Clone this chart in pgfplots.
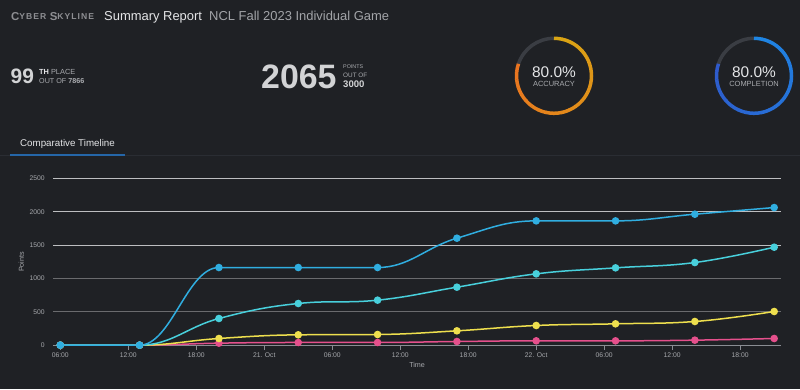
\documentclass[border=0pt]{standalone}
\usepackage{fontspec}
\setmainfont{Liberation Sans}
\usepackage{pgfplots}
\pgfplotsset{compat=1.18}
\definecolor{bg}{HTML}{1F2125}
\definecolor{logogray}{HTML}{8E8F93}
\definecolor{titlewhite}{HTML}{E4E5E7}
\definecolor{subgray}{HTML}{A2A4A8}
\definecolor{bignum}{HTML}{D2D3D5}
\definecolor{smallgray}{HTML}{A9ABAF}
\definecolor{track}{HTML}{3A3D43}
\definecolor{accY}{HTML}{D9A514}
\definecolor{accO}{HTML}{EA7420}
\definecolor{cmpA}{HTML}{1E86E4}
\definecolor{cmpB}{HTML}{2F5ACB}
\definecolor{tabline}{HTML}{2566A8}
\definecolor{sepline}{HTML}{2A2D33}
\definecolor{axisgray}{HTML}{8A8D93}
\definecolor{griddark}{HTML}{6A6B6E}
\definecolor{gridlight}{HTML}{BDBEC0}
\definecolor{tickgray}{HTML}{A6A8AC}
\definecolor{sBlue}{HTML}{30AEE0}
\definecolor{sTeal}{HTML}{48D0DC}
\definecolor{sYellow}{HTML}{EEDF4E}
\definecolor{sPink}{HTML}{E5508C}
% ---- Highcharts-like spline plot handler (control points from the data points)
\makeatletter
\def\pgfplothandlerhcspline{%
  \def\pgf@plotstreamstart{%
    \global\let\pgf@plotstreampoint=\hc@first
    \global\let\pgf@plotstreamspecial=\pgfutil@gobble
    \global\let\pgf@plotstreamend=\pgfutil@empty
  }%
}
\def\hc@first#1{%
  \pgf@process{#1}%
  \xdef\hc@ax{\pgf@sys@tonumber\pgf@x}\xdef\hc@ay{\pgf@sys@tonumber\pgf@y}%
  \global\let\hc@rcx=\hc@ax \global\let\hc@rcy=\hc@ay
  \pgf@plot@first@action{\pgfqpoint{\hc@ax pt}{\hc@ay pt}}%
  \global\let\pgf@plotstreampoint=\hc@second
}
\def\hc@second#1{%
  \pgf@process{#1}%
  \xdef\hc@bx{\pgf@sys@tonumber\pgf@x}\xdef\hc@by{\pgf@sys@tonumber\pgf@y}%
  \global\let\pgf@plotstreampoint=\hc@next
  \global\let\pgf@plotstreamend=\hc@end
}
\def\hc@next#1{%
  \pgf@process{#1}%
  \xdef\hc@cx{\pgf@sys@tonumber\pgf@x}\xdef\hc@cy{\pgf@sys@tonumber\pgf@y}%
  \hc@compute
  \pgfpathcurveto{\pgfqpoint{\hc@rcx pt}{\hc@rcy pt}}{\pgfqpoint{\hc@lcx pt}{\hc@lcy pt}}{\pgfqpoint{\hc@bx pt}{\hc@by pt}}%
  \global\let\hc@rcx=\hc@rcxn \global\let\hc@rcy=\hc@rcyn
  \global\let\hc@ax=\hc@bx \global\let\hc@ay=\hc@by
  \global\let\hc@bx=\hc@cx \global\let\hc@by=\hc@cy
}
\def\hc@end{%
  \pgfpathcurveto{\pgfqpoint{\hc@rcx pt}{\hc@rcy pt}}{\pgfqpoint{\hc@bx pt}{\hc@by pt}}{\pgfqpoint{\hc@bx pt}{\hc@by pt}}%
}
\def\hc@compute{%
  \pgfmathsetmacro\hc@lcx{(1.5*\hc@bx+\hc@ax)/2.5}%
  \pgfmathsetmacro\hc@lcy{(1.5*\hc@by+\hc@ay)/2.5}%
  \pgfmathsetmacro\hc@rcxn{(1.5*\hc@bx+\hc@cx)/2.5}%
  \pgfmathsetmacro\hc@rcyn{(1.5*\hc@by+\hc@cy)/2.5}%
  \ifdim\hc@rcxn pt=\hc@lcx pt\relax\else
    \pgfmathsetmacro\hc@corr{(\hc@rcyn-\hc@lcy)*((\hc@rcxn-\hc@bx)/(\hc@rcxn-\hc@lcx))+\hc@by-\hc@rcyn}%
    \pgfmathsetmacro\hc@lcy{\hc@lcy+\hc@corr}%
    \pgfmathsetmacro\hc@rcyn{\hc@rcyn+\hc@corr}%
  \fi
  \ifdim\hc@lcy pt>\hc@ay pt\relax
    \ifdim\hc@lcy pt>\hc@by pt\relax
      \pgfmathsetmacro\hc@lcy{max(\hc@ay,\hc@by)}%
      \pgfmathsetmacro\hc@rcyn{2*\hc@by-\hc@lcy}%
    \fi
  \else
    \ifdim\hc@lcy pt<\hc@ay pt\relax
      \ifdim\hc@lcy pt<\hc@by pt\relax
        \pgfmathsetmacro\hc@lcy{min(\hc@ay,\hc@by)}%
        \pgfmathsetmacro\hc@rcyn{2*\hc@by-\hc@lcy}%
      \fi
    \fi
  \fi
  \ifdim\hc@rcyn pt>\hc@cy pt\relax
    \ifdim\hc@rcyn pt>\hc@by pt\relax
      \pgfmathsetmacro\hc@rcyn{max(\hc@cy,\hc@by)}%
      \pgfmathsetmacro\hc@lcy{2*\hc@by-\hc@rcyn}%
    \fi
  \else
    \ifdim\hc@rcyn pt<\hc@cy pt\relax
      \ifdim\hc@rcyn pt<\hc@by pt\relax
        \pgfmathsetmacro\hc@rcyn{min(\hc@cy,\hc@by)}%
        \pgfmathsetmacro\hc@lcy{2*\hc@by-\hc@rcyn}%
      \fi
    \fi
  \fi
}
\tikzset{hc spline/.code={\let\tikz@plot@handler=\pgfplothandlerhcspline}}
\makeatother
\begin{document}
\begin{tikzpicture}[x=1bp,y=1bp]
\path[use as bounding box] (0,0) rectangle (800,389);
\fill[bg] (0,0) rectangle (800,389);
% ---- header
\node[anchor=base west, inner sep=0, text=logogray] at (11,369)
  {\bfseries\addfontfeature{LetterSpace=12}\fontsize{11.5}{12}\selectfont C\fontsize{8.6}{9}\selectfont YBER\ \fontsize{11.5}{12}\selectfont S\fontsize{8.6}{9}\selectfont KYLINE};
\node[anchor=base west, inner sep=0, text=titlewhite, font=\fontsize{13}{15}\selectfont] at (104,369) {Summary Report};
\node[anchor=base west, inner sep=0, text=subgray, font=\fontsize{13}{15}\selectfont] at (209,369) {NCL Fall 2023 Individual Game};
% place
\node[anchor=base west, inner sep=0, text=bignum, font=\bfseries\fontsize{21}{24}\selectfont] at (10.5,306) {99};
\node[anchor=base west, inner sep=0, text=smallgray, font=\fontsize{7.4}{9}\selectfont] at (39,314.5) {\textcolor{titlewhite}{\bfseries TH} PLACE};
\node[anchor=base west, inner sep=0, text=smallgray, font=\fontsize{7.2}{9}\selectfont] at (39,306) {OUT OF \bfseries 7866};
% points
\node[anchor=base west, inner sep=0, text=bignum, font=\bfseries\fontsize{34}{38}\selectfont] at (261,301) {2065};
\node[anchor=base west, inner sep=0, text=smallgray, font=\fontsize{5.4}{6}\selectfont] at (343,321) {POINTS};
\node[anchor=base west, inner sep=0, text=smallgray, font=\fontsize{6.4}{7}\selectfont] at (343,311.5) {OUT OF};
\node[anchor=base west, inner sep=0, text=bignum, font=\bfseries\fontsize{9.6}{11}\selectfont] at (343,302) {3000};
% gauges
\draw[track, line width=3.5bp] (554,313.2) ++(162:37.5) arc[start angle=162, end angle=90, radius=37.5];
\foreach \i in {0,...,23}{
  \pgfmathtruncatemacro\p{round(100*\i/23)}
  \pgfmathsetmacro\sa{90-12*\i}
  \pgfmathsetmacro\ea{90-12*\i-12.6}
  \draw[color=accO!\p!accY, line width=3.5bp] (554,313.2) ++(\sa:37.5) arc[start angle=\sa, end angle=\ea, radius=37.5];
}
\draw[track, line width=3.5bp] (754,313.2) ++(162:37.5) arc[start angle=162, end angle=90, radius=37.5];
\foreach \i in {0,...,23}{
  \pgfmathtruncatemacro\p{round(100*\i/23)}
  \pgfmathsetmacro\sa{90-12*\i}
  \pgfmathsetmacro\ea{90-12*\i-12.6}
  \draw[color=cmpB!\p!cmpA, line width=3.5bp] (754,313.2) ++(\sa:37.5) arc[start angle=\sa, end angle=\ea, radius=37.5];
}
\node[inner sep=0, text=titlewhite, font=\fontsize{15.5}{17}\selectfont] at (554,316.5) {80.0\%};
\node[inner sep=0, text=smallgray, font=\fontsize{7.5}{9}\selectfont] at (554,305.5) {ACCURACY};
\node[inner sep=0, text=titlewhite, font=\fontsize{15.5}{17}\selectfont] at (754,316.5) {80.0\%};
\node[inner sep=0, text=smallgray, font=\fontsize{7.5}{9}\selectfont] at (754,305.5) {COMPLETION};
% tab
\node[anchor=base west, inner sep=0, text=titlewhite, font=\fontsize{9.8}{11}\selectfont] at (20,243) {Comparative Timeline};
\draw[sepline, line width=1bp] (0,233.5) -- (800,233.5);
\draw[tabline, line width=2bp] (10,234) -- (125,234);
% ---- chart
\begin{axis}[
  at={(47,65.8)}, anchor=south west,
  scale only axis, width=727.7bp, height=166.6bp,
  xmin=5.38, xmax=69.6, ymin=0, ymax=2500,
  axis x line*=bottom, axis y line*=left,
  y axis line style={draw=none},
  x axis line style={draw=axisgray, line width=0.8bp},
  xtick={6,12,18,24,30,36,42,48,54,60,66},
  xticklabels={06:00,12:00,18:00,21. Oct,06:00,12:00,18:00,22. Oct,06:00,12:00,18:00},
  xtick align=outside,
  x tick style={draw=axisgray, line width=0.8bp},
  major tick length=5bp,
  ytick={0,500,1000},
  extra y ticks={1500,2000,2500},
  y tick style={draw=none},
  ymajorgrids,
  major grid style={draw=griddark, line width=1bp},
  extra y tick style={grid=major, major grid style={draw=gridlight, line width=1bp}, tick style={draw=none}},
  tick label style={font=\fontsize{6.8}{8}\selectfont, text=tickgray},
  /pgf/number format/assume math mode=true,
  /pgf/number format/1000 sep={},
  yticklabel style={xshift=-5bp},
  xticklabel style={yshift=1bp},
  xlabel={Time}, ylabel={Points},
  xlabel style={at={(axis description cs:0.5,-0.12)}, anchor=center, font=\fontsize{7.2}{8}\selectfont, text=tickgray},
  ylabel style={at={(axis description cs:-0.044,0.5)}, anchor=center, font=\fontsize{7.2}{8}\selectfont, text=tickgray},
  clip=false,
  every axis plot/.append style={line width=1.5bp, hc spline, mark=*, mark size=3bp},
]
\addplot[color=sPink, mark options={fill=sPink, draw=sPink}] coordinates {(6,0)(13,0)(20,30)(27,40)(34,40)(41,55)(48,65)(55,65)(62,75)(69,100)};
\addplot[color=sYellow, mark options={fill=sYellow, draw=sYellow}] coordinates {(6,0)(13,0)(20,100)(27,155)(34,160)(41,215)(48,295)(55,320)(62,355)(69,505)};
\addplot[color=sTeal, mark options={fill=sTeal, draw=sTeal}] coordinates {(6,0)(13,0)(20,400)(27,625)(34,675)(41,870)(48,1070)(55,1160)(62,1240)(69,1470)};
\addplot[color=sBlue, mark options={fill=sBlue, draw=sBlue}] coordinates {(6,0)(13,0)(20,1165)(27,1165)(34,1165)(41,1605)(48,1865)(55,1865)(62,1965)(69,2065)};
\end{axis}
\end{tikzpicture}
\end{document}
